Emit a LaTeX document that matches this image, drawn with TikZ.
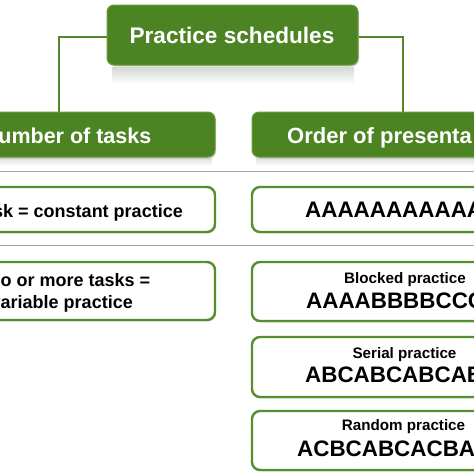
\documentclass[tikz,border=0pt]{standalone}
\usepackage{fontspec}
\setmainfont{Liberation Sans}
\usetikzlibrary{shadows}
\definecolor{gfill}{RGB}{76,132,36}
\definecolor{gedge}{RGB}{104,156,62}
\definecolor{gline}{RGB}{84,136,44}
\definecolor{wedge}{RGB}{86,142,46}
\begin{document}
\begin{tikzpicture}[x=1pt,y=-1pt,
  greenbox/.style={draw=gedge,line width=1pt,fill=gfill,rounded corners=7pt,
    drop shadow={shadow xshift=1pt,shadow yshift=-1.5pt,opacity=0.35}},
  whitebox/.style={draw=wedge,line width=2.4pt,fill=white,rounded corners=8pt,
    drop shadow={shadow xshift=1pt,shadow yshift=-1.5pt,opacity=0.25}},
  conn/.style={draw=gline,line width=2.6pt},
  sep/.style={draw=black!35,line width=1pt},
  txt/.style={inner sep=0pt,font=\bfseries},
  htxt/.style={txt,text=white,font=\fontsize{22pt}{24pt}\selectfont\bfseries},
  btxt/.style={txt,font=\fontsize{18pt}{20pt}\selectfont\bfseries},
  bigtxt/.style={txt,font=\fontsize{22.4pt}{24pt}\selectfont\bfseries},
  smalltxt/.style={txt,font=\fontsize{15.2pt}{17pt}\selectfont\bfseries}]
\useasboundingbox (0,0) rectangle (474,474);
\clip (0,0) rectangle (474,474);
\fill[white] (0,0) rectangle (474,474);
% reflections
\shade[top color=gfill!25!gray!30,bottom color=white] (112,67) rectangle (354,84);
\shade[top color=gray!25,bottom color=white] (0,158) rectangle (212,166);
\shade[top color=gray!25,bottom color=white] (256,158) rectangle (474,166);
% boxes
\node[greenbox,minimum width=251pt,minimum height=60pt] (top) at (232.5,35) {};
\node[greenbox,minimum width=312pt,minimum height=45pt] (num) at (59,134.5) {};
\node[greenbox,minimum width=302pt,minimum height=45pt] (ord) at (403,134.5) {};
\coordinate (sepA1) at (0,171); \coordinate (sepA2) at (474,171);
\coordinate (sepB1) at (0,245); \coordinate (sepB2) at (474,245);
\draw[sep] (sepA1) -- (sepA2);
\draw[sep] (sepB1) -- (sepB2);
\node[whitebox,minimum width=312pt,minimum height=45pt] (one) at (59,209.5) {};
\node[whitebox,minimum width=312pt,minimum height=58pt] (two) at (59,291) {};
\node[whitebox,minimum width=302pt,minimum height=45pt] (seqA) at (403,209.5) {};
\node[whitebox,minimum width=302pt,minimum height=59pt] (blk) at (403,291.5) {};
\node[whitebox,minimum width=302pt,minimum height=60pt] (ser) at (403,367) {};
\node[whitebox,minimum width=302pt,minimum height=59pt] (rnd) at (403,440.5) {};
% connectors
\draw[conn] ([yshift=-2pt]top.west) -| (num.north);
\draw[conn] ([yshift=-2pt]top.east) -| (ord.north);
% texts
\node[htxt,anchor=base,font=\fontsize{22.6pt}{24pt}\selectfont\bfseries] (tt) at (232,43) {Practice schedules};
\node[htxt,anchor=base east,font=\fontsize{21.5pt}{24pt}\selectfont\bfseries] (nt) at (151.5,143) {umber of tasks};
\node[htxt,anchor=base west] (ot) at (287,143) {Order of presenta};
\node[btxt,anchor=base east] (onet) at (183,217) {sk = constant practice};
\node[btxt,anchor=base west] (twot1) at (0.5,286.5) {o or more tasks =};
\node[btxt,anchor=base east] (twot2) at (133,308) {variable practice};
\node[bigtxt,anchor=base west] (seqAt) at (305,217) {AAAAAAAAAAA};
\node[smalltxt,anchor=base] (blkt) at (405,283.5) {Blocked practice};
\node[bigtxt,anchor=base west] (blks) at (306,308) {AAAABBBBCCC};
\node[smalltxt,anchor=base] (sert) at (404.5,358.3) {Serial practice};
\node[bigtxt,anchor=base west] (sers) at (305,382.7) {ABCABCABCAB};
\node[smalltxt,anchor=base] (rndt) at (403.5,430.5) {Random practice};
\node[bigtxt,anchor=base west] (rnds) at (297,456.7) {ACBCABCACBA};
\end{tikzpicture}
\end{document}
